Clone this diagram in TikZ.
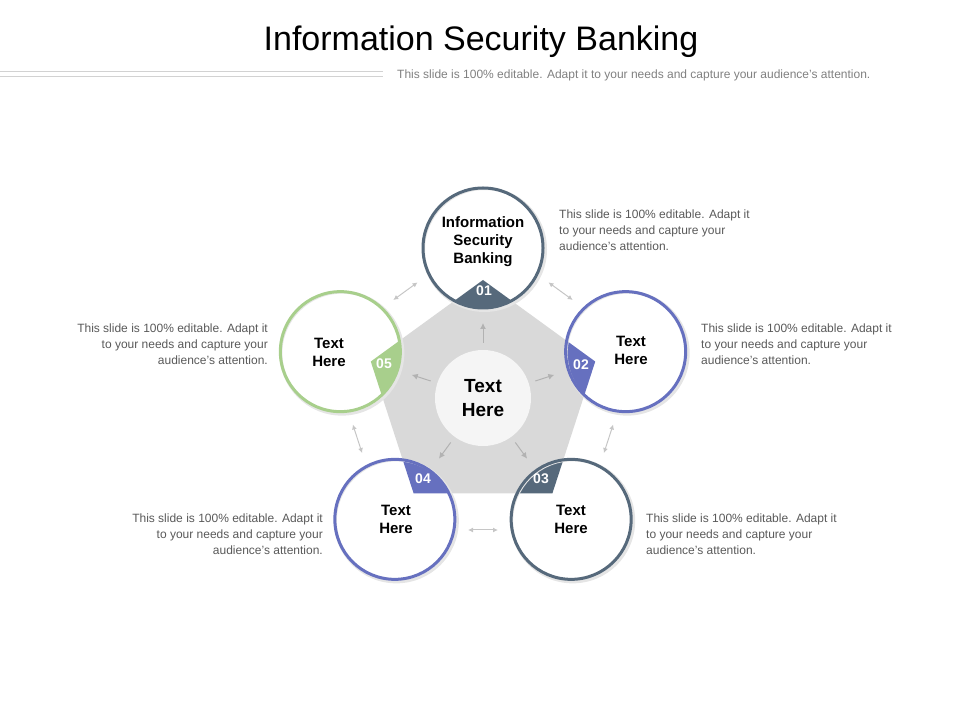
\documentclass[tikz,border=0pt]{standalone}
\usepackage{fontspec}
\setmainfont{Liberation Sans}
\usetikzlibrary{arrows.meta,calc}
\definecolor{slate}{HTML}{56697B}
\definecolor{violet}{HTML}{6670BF}
\definecolor{leaf}{HTML}{A8CF8C}
\definecolor{pent}{HTML}{D9D9D9}
\definecolor{note}{HTML}{595959}
\tikzset{
  ring/.style={line width=3pt, fill=white},
  numtext/.style={text=white, font=\bfseries\fontsize{14}{14}\selectfont},
  circtext/.style={align=center, font=\bfseries\fontsize{15}{18}\selectfont},
  notetext/.style={text=note, font=\fontsize{12}{16}\selectfont, inner sep=0pt},
  link/.style={draw=gray!45, line width=1pt, {Latex[length=5pt,width=5pt]}-{Latex[length=5pt,width=5pt]}},
  spoke/.style={draw=gray!60, line width=1pt, -{Latex[length=6pt,width=6pt]}}
}
\begin{document}
\begin{tikzpicture}[x=1pt,y=1pt]
    \useasboundingbox (0,0) rectangle (960,720);
    \coordinate (c) at (483,322);

    % Title
    \node (title) at (481,678) {\fontsize{34}{40}\selectfont Information Security Banking};
    \draw[gray!35, line width=1pt] (0,648) -- (383,648);
    \draw[gray!35, line width=1pt] (0,643) -- (383,643);
    \node[notetext, anchor=west, text=gray] (sub) at (397,645) {This slide is 100\% editable. Adapt it to your needs and capture your audience's attention.};

    % Pentagon
    \path[fill=pent] ($(c)+(90:118)$) -- ($(c)+(18:118)$) -- ($(c)+(-54:118)$) -- ($(c)+(-126:118)$) -- ($(c)+(162:118)$) -- cycle;

    % Circles with coloured wedges
    \foreach \a/\col/\n in {90/slate/1, 18/violet/2, -54/slate/3, -126/violet/4, 162/leaf/5} {
      \coordinate (p\n) at ($(c)+(\a:150)$);
      \fill[white] (p\n) circle (60);
      \begin{scope}
        \clip (p\n) circle (60);
        \fill[\col] ($(c)+(90:118)$) -- ($(c)+(18:118)$) -- ($(c)+(-54:118)$) -- ($(c)+(-126:118)$) -- ($(c)+(162:118)$) -- cycle;
      \end{scope}
      \draw[black!10, line width=3pt] ($(p\n)+(1.5,-1.5)$) circle (61);
      \draw[ring, fill=none, draw=\col] (p\n) circle (60);
    }

    % Numbers
    \node[numtext] (n1) at (484,429) {01};
    \node[numtext] (n2) at (581,355) {02};
    \node[numtext] (n3) at (541,241) {03};
    \node[numtext] (n4) at (423,241) {04};
    \node[numtext] (n5) at (384,356) {05};

    % Circle labels
    \node[circtext] (t1) at (483,478) {Information\\Security\\Banking};
    \node[circtext] (t2) at (631,370) {Text\\Here};
    \node[circtext] (t3) at (571,201) {Text\\Here};
    \node[circtext] (t4) at (396,201) {Text\\Here};
    \node[circtext] (t5) at (329,368) {Text\\Here};

    % Centre
    \node[circle, fill=gray!8, minimum size=96pt, align=center,
          font=\bfseries\fontsize{19}{24}\selectfont] (hub) at (c) {Text\\Here};

    % Spokes
    \foreach \a [count=\i] in {90,18,-54,-126,162} {
      \coordinate (s\i) at ($(c)+(\a:55)$);
      \coordinate (e\i) at ($(c)+(\a:75)$);
      \draw[spoke] (s\i) -- (e\i);
    }

    % Links between neighbours
    \foreach \a [count=\i] in {54,-18,-90,-162,126} {
      \coordinate (la\i) at ($(c)+(\a:132)+(\a+90:15)$);
      \coordinate (lb\i) at ($(c)+(\a:132)+(\a-90:15)$);
      \draw[link] (la\i) -- (lb\i);
    }

    % Notes
    \node[notetext, anchor=north west, align=left] (d1) at (559,510) {This slide is 100\% editable. Adapt it\\to your needs and capture your\\audience's attention.};
    \node[notetext, anchor=north west, align=left] (d2) at (701,396) {This slide is 100\% editable. Adapt it\\to your needs and capture your\\audience's attention.};
    \node[notetext, anchor=north west, align=left] (d3) at (646,206) {This slide is 100\% editable. Adapt it\\to your needs and capture your\\audience's attention.};
    \node[notetext, anchor=north east, align=right] (d4) at (323,206) {This slide is 100\% editable. Adapt it\\to your needs and capture your\\audience's attention.};
    \node[notetext, anchor=north east, align=right] (d5) at (268,396) {This slide is 100\% editable. Adapt it\\to your needs and capture your\\audience's attention.};
\end{tikzpicture}
\end{document}
